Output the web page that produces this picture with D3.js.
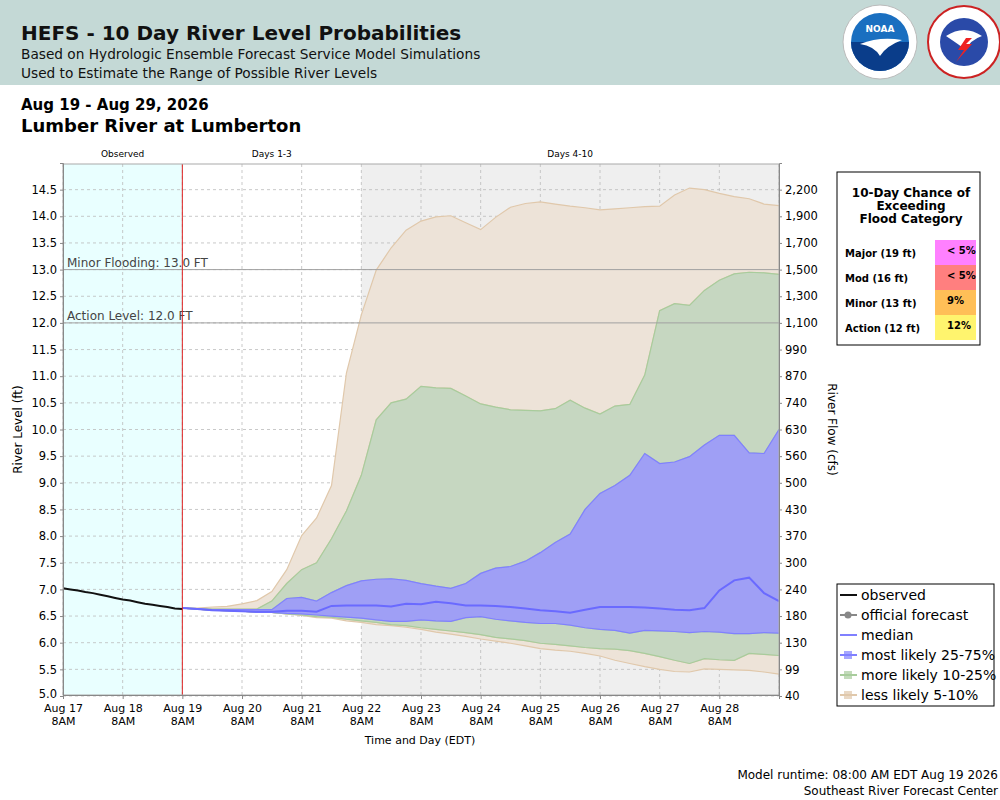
<!DOCTYPE html>
<html>
<head>
<meta charset="utf-8">
<script src="https://cdn.jsdelivr.net/npm/d3@7"></script>
<style>
  body { margin: 0; background: #fff; font-family: "DejaVu Sans", sans-serif; }
  svg text { font-family: "DejaVu Sans", sans-serif; }
</style>
</head>
<body>
<div id="chart"></div>
<script>
// stage values, 6-hourly from Aug 19 8AM
const fcStart = new Date(2026, 7, 19, 8);
const bands = {
  p95: [6.65,6.65,6.67,6.68,6.73,6.79,6.96,7.37,8.01,8.34,8.95,11.06,12.15,12.99,13.41,13.74,13.91,13.99,14.01,13.88,13.75,13.98,14.17,14.24,14.27,14.23,14.19,14.16,14.12,14.14,14.16,14.18,14.19,14.40,14.53,14.50,14.43,14.37,14.33,14.23,14.20],
  p90: [6.65,6.64,6.63,6.63,6.63,6.63,6.78,7.11,7.37,7.50,7.95,8.47,9.14,10.18,10.50,10.57,10.81,10.78,10.77,10.63,10.48,10.42,10.37,10.36,10.35,10.39,10.55,10.40,10.29,10.44,10.47,11.02,12.23,12.36,12.33,12.61,12.80,12.92,12.95,12.94,12.91],
  p75: [6.65,6.64,6.62,6.62,6.62,6.62,6.62,6.83,6.85,6.78,6.94,7.07,7.16,7.19,7.20,7.17,7.11,7.06,7.02,7.11,7.30,7.40,7.43,7.53,7.69,7.88,8.04,8.50,8.80,8.95,9.14,9.55,9.36,9.39,9.49,9.71,9.89,9.89,9.56,9.55,10.00],
  p50: [6.65,6.63,6.61,6.60,6.59,6.58,6.58,6.60,6.60,6.58,6.69,6.70,6.70,6.70,6.68,6.73,6.72,6.77,6.74,6.70,6.70,6.69,6.67,6.64,6.61,6.59,6.56,6.62,6.67,6.67,6.67,6.66,6.64,6.62,6.61,6.65,6.98,7.17,7.22,6.93,6.78],
  p25: [6.65,6.63,6.61,6.60,6.59,6.57,6.57,6.55,6.54,6.52,6.50,6.48,6.46,6.43,6.40,6.40,6.43,6.41,6.40,6.47,6.49,6.44,6.41,6.38,6.36,6.36,6.33,6.28,6.25,6.23,6.18,6.23,6.22,6.21,6.19,6.21,6.20,6.17,6.17,6.19,6.18],
  p10: [6.65,6.63,6.61,6.60,6.59,6.57,6.57,6.54,6.52,6.49,6.48,6.44,6.41,6.38,6.34,6.32,6.28,6.25,6.22,6.19,6.15,6.10,6.07,6.04,5.99,5.97,5.94,5.91,5.89,5.88,5.85,5.80,5.74,5.67,5.61,5.70,5.68,5.67,5.80,5.78,5.76],
  p5:  [6.65,6.63,6.61,6.60,6.59,6.57,6.57,6.54,6.51,6.47,6.46,6.41,6.38,6.34,6.32,6.29,6.25,6.20,6.16,6.12,6.07,6.03,5.99,5.94,5.89,5.86,5.84,5.80,5.75,5.67,5.61,5.55,5.50,5.46,5.45,5.51,5.50,5.49,5.48,5.45,5.41]
};
const fc = bands.p50.map((d, i) => ({
  t: d3.timeHour.offset(fcStart, i * 6),
  p95: bands.p95[i], p90: bands.p90[i], p75: bands.p75[i], p50: d,
  p25: bands.p25[i], p10: bands.p10[i], p5: bands.p5[i]
}));
// observed, 3-hourly from Aug 17 8AM
const obsStart = new Date(2026, 7, 17, 8);
const observed = [7.02,7.00,6.98,6.95,6.93,6.90,6.87,6.84,6.81,6.79,6.76,6.73,6.71,6.69,6.67,6.64,6.63]
  .map((v, i) => ({ t: d3.timeHour.offset(obsStart, i * 3), v }));
// rating curve labels for right axis
const flowLabels = {5:'40',5.5:'99',6:'130',6.5:'180',7:'240',7.5:'300',8:'370',8.5:'430',9:'500',9.5:'560',10:'630',10.5:'740',11:'870',11.5:'990',12:'1,100',12.5:'1,300',13:'1,500',13.5:'1,700',14:'1,900',14.5:'2,200'};
const floodCats = [
  { label: 'Major (19 ft)', val: '< 5%', color: '#ff80ff' },
  { label: 'Mod (16 ft)', val: '< 5%', color: '#ff7f7f' },
  { label: 'Minor (13 ft)', val: '9%', color: '#ffbf57' },
  { label: 'Action (12 ft)', val: '12%', color: '#fff46e' }
];

const W = 1000, H = 800;
const margin = { top: 164, right: 221, bottom: 105, left: 63 };
const svg = d3.select('#chart').append('svg').attr('width', W).attr('height', H);

// header
svg.append('rect').attr('width', W).attr('height', 85).attr('fill', '#c4d9d6');
svg.append('text').attr('x', 21).attr('y', 40).attr('font-size', 20).attr('font-weight', 'bold').attr('fill', '#111')
  .text('HEFS - 10 Day River Level Probabilities');
svg.append('text').attr('x', 21).attr('y', 59).attr('font-size', 13.7).attr('fill', '#111')
  .text('Based on Hydrologic Ensemble Forecast Service Model Simulations');
svg.append('text').attr('x', 21).attr('y', 78).attr('font-size', 13.7).attr('fill', '#111')
  .text('Used to Estimate the Range of Possible River Levels');
// logos (simplified)
const noaa = svg.append('g').attr('transform', 'translate(880,42)');
noaa.append('circle').attr('r', 37).attr('fill', '#fff').attr('stroke', '#bbb');
noaa.append('circle').attr('r', 29).attr('fill', '#1a6fc0');
noaa.append('path').attr('d', 'M-29,0 A29,29 0 0,0 29,0 Z').attr('fill', '#0a3d8a');
noaa.append('text').attr('y', -10).attr('text-anchor', 'middle').attr('font-size', 9).attr('font-weight', 'bold').attr('fill', '#fff').text('NOAA');
noaa.append('path').attr('d', 'M-20,2 Q0,-6 22,-2 Q6,4 0,14 Q-6,4 -20,2Z').attr('fill', '#fff');
const nws = svg.append('g').attr('transform', 'translate(964,42)');
nws.append('circle').attr('r', 36).attr('fill', '#fff').attr('stroke', '#c22').attr('stroke-width', 2);
nws.append('circle').attr('r', 24).attr('fill', '#2a4aa8');
nws.append('path').attr('d', 'M-18,-6 Q0,-18 18,-6 Q6,-2 2,8 Q-6,2 -18,-6Z').attr('fill', '#fff');
nws.append('path').attr('d', 'M2,-4 L-6,8 L0,8 L-8,20 L8,2 L2,2 L8,-4Z').attr('fill', '#e22');

svg.append('text').attr('x', 21).attr('y', 110).attr('font-size', 15).attr('font-weight', 'bold').text('Aug 19 - Aug 29, 2026');
svg.append('text').attr('x', 21).attr('y', 132).attr('font-size', 18).attr('font-weight', 'bold').text('Lumber River at Lumberton');

const x = d3.scaleTime()
  .domain([obsStart, d3.timeDay.offset(obsStart, 12)])
  .range([margin.left, W - margin.right]);
const y = d3.scaleLinear().domain([5, 15]).range([H - margin.bottom + 1, margin.top - 1]);
const plotTop = margin.top, plotBot = H - margin.bottom;

// shaded periods
svg.append('rect').attr('x', x(obsStart)).attr('y', plotTop).attr('width', x(fcStart) - x(obsStart)).attr('height', plotBot - plotTop).attr('fill', '#e9ffff');
const d4 = d3.timeDay.offset(fcStart, 3);
svg.append('rect').attr('x', x(d4)).attr('y', plotTop).attr('width', x.range()[1] - x(d4)).attr('height', plotBot - plotTop).attr('fill', '#efefef');
svg.append('g').attr('font-size', 9).attr('text-anchor', 'middle').selectAll('text')
  .data([['Observed', obsStart, fcStart], ['Days 1-3', fcStart, d4], ['Days 4-10', d4, x.domain()[1]]])
  .join('text').attr('x', d => (x(d[1]) + x(d[2])) / 2).attr('y', 157).text(d => d[0]);

// grid
const days = d3.range(0, 13).map(i => d3.timeDay.offset(obsStart, i));
const yTicks = d3.range(5, 14.51, 0.5);
const grid = svg.append('g').attr('stroke', '#bbb').attr('stroke-dasharray', '3,3').attr('stroke-width', 0.8);
grid.selectAll('.v').data(days).join('line').attr('x1', d => x(d)).attr('x2', d => x(d)).attr('y1', plotTop).attr('y2', plotBot);
grid.selectAll('.h').data(yTicks).join('line').attr('x1', margin.left).attr('x2', x.range()[1]).attr('y1', d => y(d)).attr('y2', d => y(d));

// bands
const area = (lo, hi) => d3.area().x(d => x(d.t)).y0(d => y(d[lo])).y1(d => y(d[hi]));
const bandDefs = [
  ['p90', 'p95', '#ede3d8', '#e0c8ab'], ['p5', 'p10', '#ede3d8', '#e0c8ab'],
  ['p75', 'p90', '#c6d7c1', '#a8cc9c'], ['p10', 'p25', '#c6d7c1', '#a8cc9c'],
  ['p25', 'p75', '#9f9ff5', '#8080ff']
];
bandDefs.forEach(([lo, hi, fill, stroke]) => {
  svg.append('path').datum(fc).attr('d', area(lo, hi)).attr('fill', fill);
  svg.append('path').datum(fc).attr('d', d3.line().x(d => x(d.t)).y(d => y(d[hi]))).attr('fill', 'none').attr('stroke', stroke).attr('stroke-width', 1.2);
  svg.append('path').datum(fc).attr('d', d3.line().x(d => x(d.t)).y(d => y(d[lo]))).attr('fill', 'none').attr('stroke', stroke).attr('stroke-width', 1.2);
});

// flood levels, drawn over the bands
[[13, 'Minor Flooding: 13.0 FT', '#a0a0a0'], [12, 'Action Level: 12.0 FT', '#a0a0a0']].forEach(([lv, lab, c]) => {
  svg.append('line').attr('x1', margin.left).attr('x2', x.range()[1]).attr('y1', y(lv)).attr('y2', y(lv)).attr('stroke', c);
  svg.append('text').attr('x', 67).attr('y', y(lv) - 3).attr('font-size', 12).attr('fill', '#444').text(lab);
});

svg.append('path').datum(fc).attr('d', d3.line().x(d => x(d.t)).y(d => y(d.p50)))
  .attr('fill', 'none').attr('stroke', '#6a6aff').attr('stroke-width', 2);
svg.append('path').datum(observed).attr('d', d3.line().x(d => x(d.t)).y(d => y(d.v)))
  .attr('fill', 'none').attr('stroke', '#111').attr('stroke-width', 2);
svg.append('line').attr('x1', x(fcStart)).attr('x2', x(fcStart)).attr('y1', plotTop).attr('y2', plotBot).attr('stroke', '#e02020');

// frame + axes
svg.append('rect').attr('x', margin.left).attr('y', plotTop).attr('width', x.range()[1] - margin.left).attr('height', plotBot - plotTop)
  .attr('fill', 'none').attr('stroke', '#aaa');
const fmt = d3.timeFormat('%b %d');
const xAxis = svg.append('g').attr('transform', `translate(0,${plotBot})`)
  .call(d3.axisBottom(x).tickValues(days.slice(0, 12)).tickSize(4).tickFormat(''));
xAxis.selectAll('.tick').each(function(d) {
  const t = d3.select(this).append('text').attr('fill', '#000').attr('font-size', 11).attr('text-anchor', 'middle');
  t.append('tspan').attr('x', 0).attr('y', 17).text(fmt(d));
  t.append('tspan').attr('x', 0).attr('y', 30).text('8AM');
});
const yLeft = svg.append('g').attr('transform', `translate(${margin.left},0)`)
  .call(d3.axisLeft(y).tickValues(yTicks).tickSize(3).tickFormat(d3.format('.1f')))
  .attr('font-size', 11.5);
// lift the bottom label clear of the date labels
yLeft.selectAll('.tick text').filter(d => d === 5).attr('dy', '0.1em');
svg.append('g').attr('transform', `translate(${x.range()[1]},0)`)
  .call(d3.axisRight(y).tickValues(yTicks).tickSize(3).tickFormat(d => flowLabels[d]))
  .attr('font-size', 11.5);
svg.selectAll('.domain').attr('stroke', '#888');
svg.selectAll('.tick line').attr('stroke', '#888');
svg.append('text').attr('transform', `translate(22,${(plotTop + plotBot) / 2}) rotate(-90)`).attr('text-anchor', 'middle').attr('font-size', 12).text('River Level (ft)');
svg.append('text').attr('transform', `translate(828,${(plotTop + plotBot) / 2}) rotate(90)`).attr('text-anchor', 'middle').attr('font-size', 12).text('River Flow (cfs)');
svg.append('text').attr('x', 420).attr('y', 744).attr('text-anchor', 'middle').attr('font-size', 11).text('Time and Day (EDT)');

// flood category table
const tb = svg.append('g').attr('transform', 'translate(837,172)');
tb.append('rect').attr('width', 143).attr('height', 173).attr('fill', '#fff').attr('stroke', '#000');
['10-Day Chance of', 'Exceeding', 'Flood Category'].forEach((s, i) =>
  tb.append('text').attr('x', 74).attr('y', 25 + i * 13).attr('text-anchor', 'middle').attr('font-size', 12).attr('font-weight', 'bold').text(s));
floodCats.forEach((c, i) => {
  tb.append('rect').attr('x', 98).attr('y', 68 + i * 25).attr('width', 41).attr('height', 25).attr('fill', c.color);
  tb.append('text').attr('x', 8).attr('y', 85 + i * 25).attr('font-size', 10).attr('font-weight', 'bold').text(c.label);
  tb.append('text').attr('x', 110).attr('y', 82 + i * 25).attr('font-size', 10).attr('font-weight', 'bold').text(c.val);
});

// legend
const lg = svg.append('g').attr('transform', 'translate(837,584)');
lg.append('rect').attr('width', 157).attr('height', 122).attr('fill', '#fff').attr('stroke', '#000');
const legItems = [
  ['observed', '#111', null], ['official forecast', '#888', 'circle'], ['median', '#8080ff', null],
  ['most likely 25-75%', '#8080ff', 'rect'], ['more likely 10-25%', '#a8cc9c', 'rect'], ['less likely 5-10%', '#e0c8ab', 'rect']
];
legItems.forEach(([lab, c, m], i) => {
  const gy = 11 + i * 20;
  lg.append('line').attr('x1', 3).attr('x2', 20).attr('y1', gy).attr('y2', gy).attr('stroke', c).attr('stroke-width', 2);
  if (m === 'circle') lg.append('circle').attr('cx', 11).attr('cy', gy).attr('r', 3.5).attr('fill', c);
  if (m === 'rect') lg.append('rect').attr('x', 7).attr('y', gy - 4).attr('width', 8).attr('height', 8).attr('fill', c).attr('opacity', 0.7);
  lg.append('text').attr('x', 24).attr('y', gy + 5).attr('font-size', 14).text(lab);
});

// footer
svg.append('text').attr('x', 998).attr('y', 779).attr('text-anchor', 'end').attr('font-size', 12).text('Model runtime: 08:00 AM EDT Aug 19 2026');
svg.append('text').attr('x', 998).attr('y', 795).attr('text-anchor', 'end').attr('font-size', 12).text('Southeast River Forecast Center');
</script>
</body>
</html>
